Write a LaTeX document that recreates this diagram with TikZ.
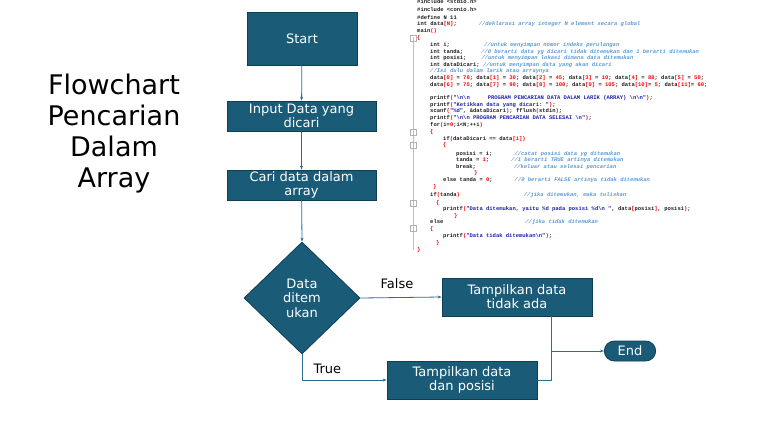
\documentclass[tikz,border=0pt]{standalone}
\usepackage{fontspec}
\setmainfont{DejaVu Sans}
\setmonofont{Liberation Mono}
\usetikzlibrary{shapes.geometric,shapes.misc,arrows.meta}
\definecolor{boxfill}{HTML}{1A5B78}
\definecolor{boxline}{HTML}{0F3F55}
\definecolor{arrowc}{HTML}{2A6F8F}
\definecolor{cmt}{HTML}{5A9BD5}
\definecolor{strc}{HTML}{2020B0}
\definecolor{kw}{HTML}{202020}
\begin{document}
\begin{tikzpicture}[x=1pt,y=-1pt,
  proc/.style={rectangle,draw=boxline,line width=0.8pt,fill=boxfill,text=white,font=\fontsize{13}{14}\selectfont,align=center,inner sep=0pt},
  dec/.style={diamond,draw=boxline,line width=0.8pt,fill=boxfill,text=white,font=\fontsize{13}{14.5}\selectfont,align=center,inner sep=0pt,minimum width=116pt,minimum height=112pt},
  term/.style={rounded rectangle,draw=boxline,line width=0.8pt,fill=boxfill,text=white,font=\fontsize{13}{14}\selectfont,minimum width=58pt,minimum height=20pt},
  conn/.style={draw=arrowc,line width=0.8pt,-{Stealth[length=4pt,width=3pt]}},
  plain/.style={draw=arrowc,line width=0.8pt},
  lbl/.style={font=\fontsize{13}{14}\selectfont,text=black},
  code/.style={anchor=west,inner sep=0pt,font=\fontsize{5.5}{6}\ttfamily\bfseries,text=kw}]
\useasboundingbox (0,0) rectangle (768,433);
\fill[white] (0,0) rectangle (768,433);
% title
\node[font=\fontsize{27}{31}\selectfont,align=center] (title) at (114,134) {Flowchart\\Pencarian\\Dalam\\Array};
% flowchart
\node[proc,minimum width=110pt,minimum height=53pt] (start) at (302,38.5) {Start};
\node[proc,minimum width=149pt,minimum height=30pt] (input) at (301.5,116) {Input Data yang\\dicari};
\node[proc,minimum width=149pt,minimum height=30pt] (cari) at (301.5,185) {Cari data dalam\\array};
\node[dec] (dec) at (302,298) {Data\\ditem\\ukan};
\node[proc,minimum width=150pt,minimum height=38pt] (tidak) at (517,297) {Tampilkan data\\tidak ada};
\node[proc,minimum width=150pt,minimum height=38pt] (ada) at (462,380) {Tampilkan data\\dan posisi};
\node[term] (end) at (630,351) {End};
\coordinate (jn) at (551,351);
\draw[conn] (start) -- (input);
\draw[conn] (input) -- (cari);
\draw[conn] (cari) -- (dec.north);
\draw[conn] (dec.east) -- node[lbl,above=5pt,pos=0.45] (lf) {False} (tidak.west);
\draw[conn] (dec.south) |- node[lbl,above=3pt,pos=0.65] (lt) {True} (ada.west);
\draw[plain] (tidak.south -| jn) -- (jn);
\draw[plain] (ada.east) -| (jn);
\draw[conn] (jn) -- (end.west);
% code screenshot
\fill[white] (405,0) rectangle (735,256);
\draw[gray!50,line width=0.5pt] (413,37) -- (413,250);
\foreach \yy in {38,132,145,203,228} {\draw[gray!60,line width=0.4pt] (410,\yy-3) rectangle (416,\yy+3);}
\node[code] (c1) at (417,2) {\#include <stdio.h>};
\node[code] (c2) at (417,9.5) {\#include <conio.h>};
\node[code] (c3) at (417,17) {\#define N 11};
\node[code] (c4) at (417,24) {int data\textcolor{red}{[N]};\hspace{22pt}\textcolor{cmt}{\itshape //deklarasi array integer N element secara global}};
\node[code] (c5) at (417,31) {main\textcolor{red}{()}};
\node[code] (c6) at (417,38) {\textcolor{red}{\{}};
\node[code] (c7) at (430,45) {int i;\hspace{34pt}\textcolor{cmt}{\itshape //untuk menyimpan nomor indeks perulangan}};
\node[code] (c8) at (430,52) {int tanda;\hspace{18pt}\textcolor{cmt}{\itshape //0 berarti data yg dicari tidak ditemukan dan 1 berarti ditemukan}};
\node[code] (c9) at (430,58.5) {int posisi;\hspace{15pt}\textcolor{cmt}{\itshape //untuk menyimpan lokasi dimana data ditemukan}};
\node[code] (c10) at (430,65) {int dataDicari; \textcolor{cmt}{\itshape //untuk menyimpan data yang akan dicari}};
\node[code] (c11) at (430,71.5) {\textcolor{cmt}{\itshape //Isi dulu dalam larik atau arraynya}};
\node[code] (c12) at (430,78) {data\textcolor{red}{[0]} = \textcolor{red}{70}; data\textcolor{red}{[1]} = \textcolor{red}{30}; data\textcolor{red}{[2]} = \textcolor{red}{45};  data\textcolor{red}{[3]} = \textcolor{red}{10};  data\textcolor{red}{[4]} = \textcolor{red}{80}; data\textcolor{red}{[5]} = \textcolor{red}{50};};
\node[code] (c13) at (430,85) {data\textcolor{red}{[6]} = \textcolor{red}{75}; data\textcolor{red}{[7]} = \textcolor{red}{90}; data\textcolor{red}{[8]} = \textcolor{red}{100}; data\textcolor{red}{[9]} = \textcolor{red}{105}; data\textcolor{red}{[10]}= \textcolor{red}{5};  data\textcolor{red}{[11]}= \textcolor{red}{60};};
\node[code] (c14) at (430,98) {printf\textcolor{red}{(}\textcolor{strc}{"\textbackslash n\textbackslash n\hspace{18pt}PROGRAM PENCARIAN DATA DALAM LARIK (ARRAY)  \textbackslash n\textbackslash n"}\textcolor{red}{)};};
\node[code] (c15) at (430,105) {printf\textcolor{red}{(}\textcolor{strc}{"Ketikkan data yang dicari: "}\textcolor{red}{)};};
\node[code] (c16) at (430,111.5) {scanf\textcolor{red}{(}\textcolor{strc}{"\%d"}, \&dataDicari\textcolor{red}{)}; fflush\textcolor{red}{(}stdin\textcolor{red}{)};};
\node[code] (c17) at (430,118) {printf\textcolor{red}{(}\textcolor{strc}{"\textbackslash n\textbackslash n  PROGRAM PENCARIAN DATA SELESAI  \textbackslash n"}\textcolor{red}{)};};
\node[code] (c18) at (430,125) {for\textcolor{red}{(}i=\textcolor{red}{0};i<N;++i\textcolor{red}{)}};
\node[code] (c19) at (430,132) {\textcolor{red}{\{}};
\node[code] (c20) at (443,139) {if\textcolor{red}{(}dataDicari == data\textcolor{red}{[i])}};
\node[code] (c21) at (443,145.5) {\textcolor{red}{\{}};
\node[code] (c22) at (456,154) {posisi = i;\hspace{22pt}\textcolor{cmt}{\itshape //catat posisi data yg ditemukan}};
\node[code] (c23) at (456,160.5) {tanda = \textcolor{red}{1};\hspace{22pt}\textcolor{cmt}{\itshape //1 berarti TRUE artinya ditemukan}};
\node[code] (c24) at (456,167) {break;\hspace{38pt}\textcolor{cmt}{\itshape //keluar atau selesai pencarian}};
\node[code] (c25) at (474,173.5) {\textcolor{red}{\}}};
\node[code] (c26) at (443,180.5) {else tanda = \textcolor{red}{0};\hspace{22pt}\textcolor{cmt}{\itshape //0 berarti FALSE artinya tidak ditemukan}};
\node[code] (c27) at (433,187) {\textcolor{red}{\}}};
\node[code] (c28) at (430,195) {if\textcolor{red}{(}tanda\textcolor{red}{)}\hspace{64pt}\textcolor{cmt}{\itshape //jika ditemukan, maka tuliskan}};
\node[code] (c29) at (436,203) {\textcolor{red}{\{}};
\node[code] (c30) at (443,209.5) {printf\textcolor{red}{(}\textcolor{strc}{"Data ditemukan, yaitu \%d pada posisi \%d\textbackslash n "}, data\textcolor{red}{[}posisi\textcolor{red}{]}, posisi\textcolor{red}{)};};
\node[code] (c31) at (454,216) {\textcolor{red}{\}}};
\node[code] (c32) at (430,222.5) {else\hspace{82pt}\textcolor{cmt}{\itshape //jika tidak ditemukan}};
\node[code] (c33) at (430,229) {\textcolor{red}{\{}};
\node[code] (c34) at (443,236) {printf\textcolor{red}{(}\textcolor{strc}{"Data tidak ditemukan\textbackslash n"}\textcolor{red}{)};};
\node[code] (c35) at (436,243) {\textcolor{red}{\}}};
\node[code] (c36) at (417,250) {\textcolor{red}{\}}};
\end{tikzpicture}
\end{document}
